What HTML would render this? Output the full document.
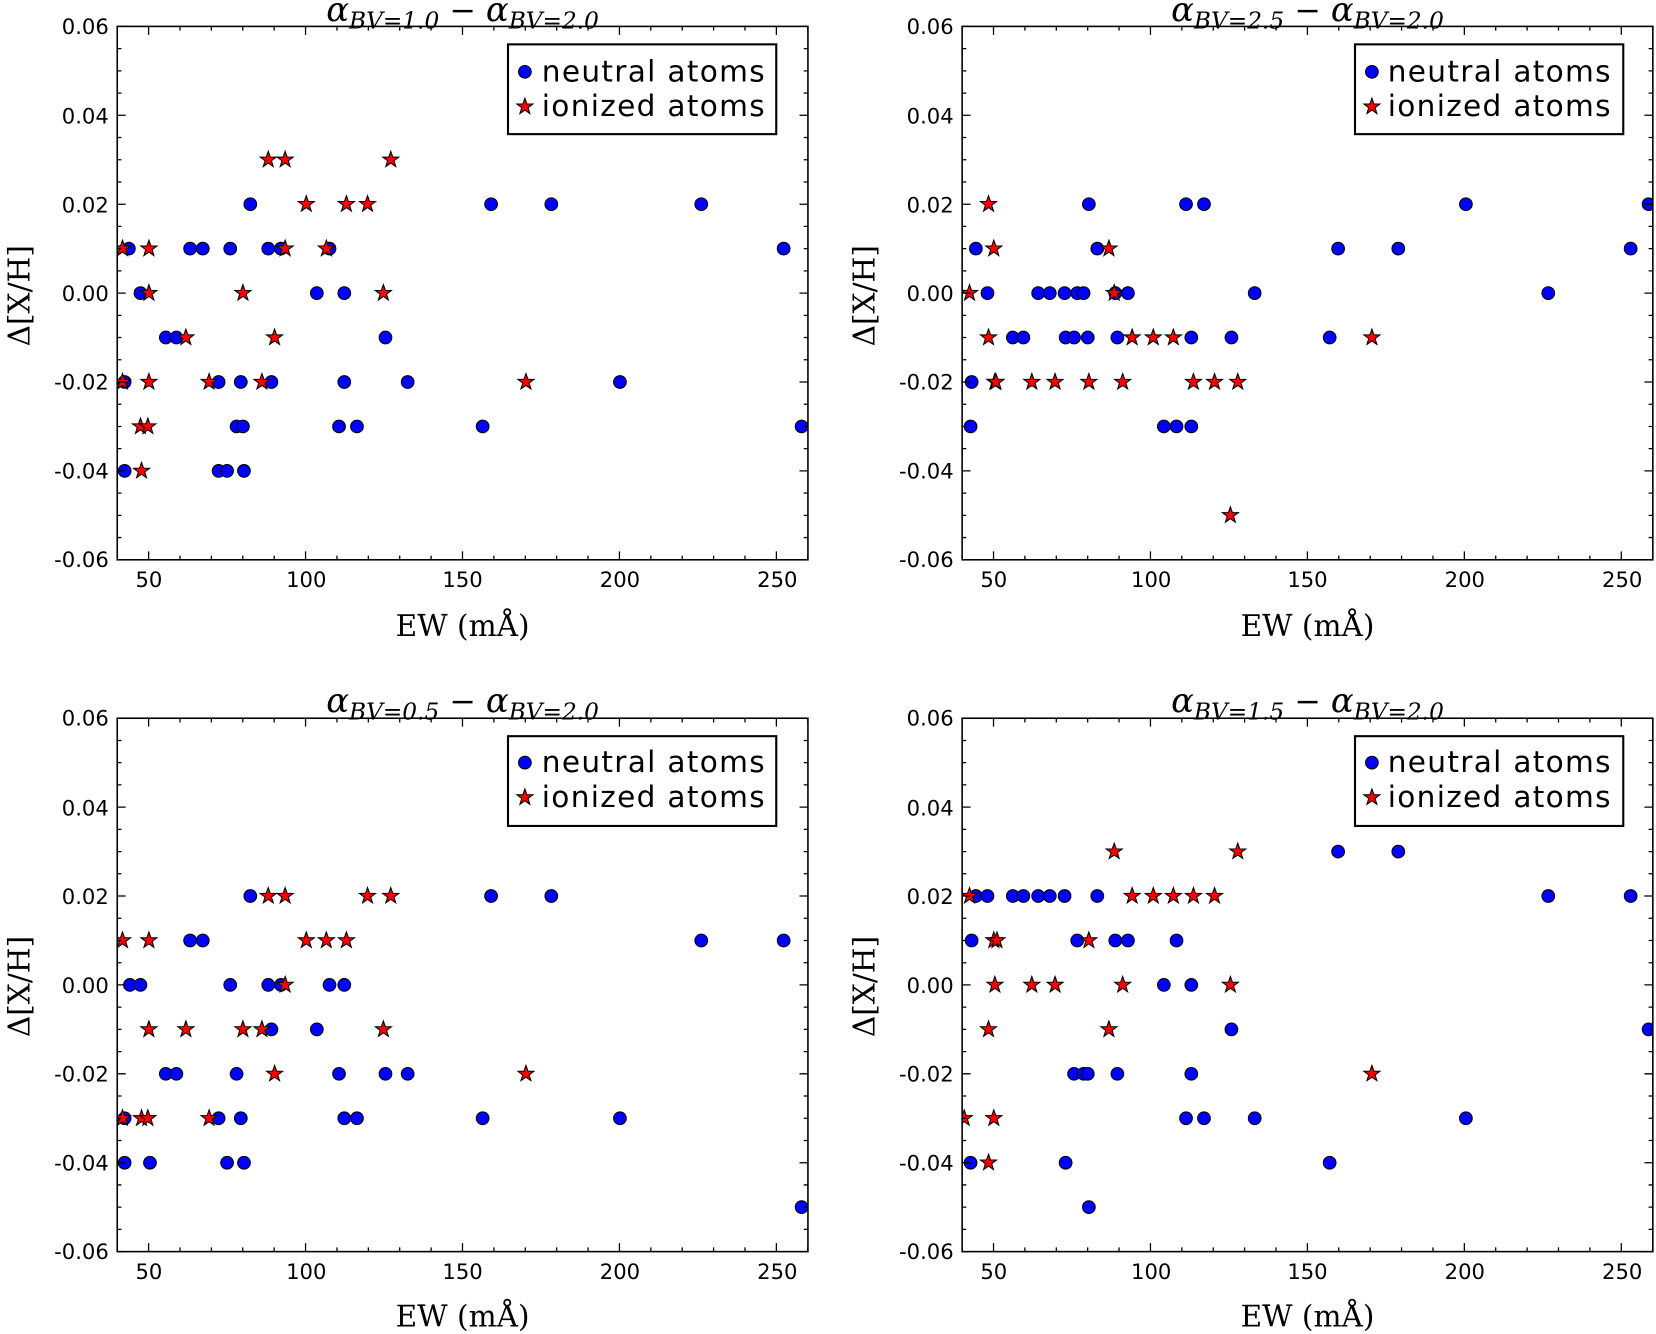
<!DOCTYPE html>
<html><head><meta charset="utf-8"><style>
html,body{margin:0;padding:0;background:#fff;}
svg{display:block;}
text{font-family:"DejaVu Sans","Liberation Sans",sans-serif;}
.t{font-family:"DejaVu Serif","Liberation Serif",serif;}
</style></head><body>
<svg id="s" width="1656" height="1334" viewBox="0 0 1568 1263" preserveAspectRatio="none" xmlns="http://www.w3.org/2000/svg">
<defs>
<clipPath id="c0"><rect x="111" y="25" width="654" height="505"/></clipPath>
<clipPath id="c1"><rect x="911" y="25" width="654" height="505"/></clipPath>
<clipPath id="c2"><rect x="111" y="680" width="654" height="505"/></clipPath>
<clipPath id="c3"><rect x="911" y="680" width="654" height="505"/></clipPath>
</defs>
<g id="g"></g>
<!-- titles -->
<g class="t" text-anchor="middle">
<text class="t" x="438" y="20"><tspan font-size="32" font-style="italic">α</tspan><tspan font-size="22" font-style="italic" dy="7">BV=1.0</tspan><tspan font-size="30" dy="-7"> − </tspan><tspan font-size="32" font-style="italic">α</tspan><tspan font-size="22" font-style="italic" dy="7">BV=2.0</tspan></text>
<text class="t" x="1238" y="20"><tspan font-size="32" font-style="italic">α</tspan><tspan font-size="22" font-style="italic" dy="7">BV=2.5</tspan><tspan font-size="30" dy="-7"> − </tspan><tspan font-size="32" font-style="italic">α</tspan><tspan font-size="22" font-style="italic" dy="7">BV=2.0</tspan></text>
<text class="t" x="438" y="674"><tspan font-size="32" font-style="italic">α</tspan><tspan font-size="22" font-style="italic" dy="7">BV=0.5</tspan><tspan font-size="30" dy="-7"> − </tspan><tspan font-size="32" font-style="italic">α</tspan><tspan font-size="22" font-style="italic" dy="7">BV=2.0</tspan></text>
<text class="t" x="1238" y="674"><tspan font-size="32" font-style="italic">α</tspan><tspan font-size="22" font-style="italic" dy="7">BV=1.5</tspan><tspan font-size="30" dy="-7"> − </tspan><tspan font-size="32" font-style="italic">α</tspan><tspan font-size="22" font-style="italic" dy="7">BV=2.0</tspan></text>
</g>
<!-- axis labels -->
<text class="t" x="438" y="602" font-size="28" text-anchor="middle">EW (mÅ)</text>
<text class="t" x="1238" y="602" font-size="28" text-anchor="middle">EW (mÅ)</text>
<text class="t" x="438" y="1256" font-size="28" text-anchor="middle">EW (mÅ)</text>
<text class="t" x="1238" y="1256" font-size="28" text-anchor="middle">EW (mÅ)</text>
<text class="t" font-size="28" text-anchor="middle" transform="translate(28,280) rotate(-90)">Δ[X/H]</text>
<text class="t" font-size="28" text-anchor="middle" transform="translate(828,280) rotate(-90)">Δ[X/H]</text>
<text class="t" font-size="28" text-anchor="middle" transform="translate(28,934) rotate(-90)">Δ[X/H]</text>
<text class="t" font-size="28" text-anchor="middle" transform="translate(828,934) rotate(-90)">Δ[X/H]</text>
<!-- tick labels -->
<g font-size="20" text-anchor="end">
<text x="103" y="32">0.06</text><text x="103" y="117">0.04</text><text x="103" y="201">0.02</text><text x="103" y="285">0.00</text><text x="103" y="369">-0.02</text><text x="103" y="453">-0.04</text><text x="103" y="537">-0.06</text>
<text x="903" y="32">0.06</text><text x="903" y="117">0.04</text><text x="903" y="201">0.02</text><text x="903" y="285">0.00</text><text x="903" y="369">-0.02</text><text x="903" y="453">-0.04</text><text x="903" y="537">-0.06</text>
<text x="103" y="687">0.06</text><text x="103" y="772">0.04</text><text x="103" y="856">0.02</text><text x="103" y="940">0.00</text><text x="103" y="1024">-0.02</text><text x="103" y="1108">-0.04</text><text x="103" y="1192">-0.06</text>
<text x="903" y="687">0.06</text><text x="903" y="772">0.04</text><text x="903" y="856">0.02</text><text x="903" y="940">0.00</text><text x="903" y="1024">-0.02</text><text x="903" y="1108">-0.04</text><text x="903" y="1192">-0.06</text>
</g>
<g font-size="20" text-anchor="middle">
<text x="141" y="556">50</text><text x="290" y="556">100</text><text x="438" y="556">150</text><text x="587" y="556">200</text><text x="736" y="556">250</text>
<text x="941" y="556">50</text><text x="1090" y="556">100</text><text x="1238" y="556">150</text><text x="1387" y="556">200</text><text x="1536" y="556">250</text>
<text x="141" y="1211">50</text><text x="290" y="1211">100</text><text x="438" y="1211">150</text><text x="587" y="1211">200</text><text x="736" y="1211">250</text>
<text x="941" y="1211">50</text><text x="1090" y="1211">100</text><text x="1238" y="1211">150</text><text x="1387" y="1211">200</text><text x="1536" y="1211">250</text>
</g>
<!-- legends -->
<g font-size="28">
<rect x="481" y="42" width="254" height="85" fill="#fff" stroke="#000" stroke-width="2"/>
<text x="513" y="77" textLength="211">neutral atoms</text><text x="513" y="110" textLength="211">ionized atoms</text>
<rect x="1283" y="42" width="254" height="85" fill="#fff" stroke="#000" stroke-width="2"/>
<text x="1314" y="77" textLength="211">neutral atoms</text><text x="1314" y="110" textLength="211">ionized atoms</text>
<rect x="481" y="697" width="254" height="85" fill="#fff" stroke="#000" stroke-width="2"/>
<text x="513" y="731" textLength="211">neutral atoms</text><text x="513" y="764" textLength="211">ionized atoms</text>
<rect x="1283" y="697" width="254" height="85" fill="#fff" stroke="#000" stroke-width="2"/>
<text x="1314" y="731" textLength="211">neutral atoms</text><text x="1314" y="764" textLength="211">ionized atoms</text>
</g>
<g id="leg"></g>
</svg>
<script>
var NS="http://www.w3.org/2000/svg";
function el(p,n,a){var e=document.createElementNS(NS,n);for(var k in a)e.setAttribute(k,a[k]);p.appendChild(e);return e;}
function star(cx,cy,r){var s="";for(var i=0;i<10;i++){var rr=i%2?r*0.4:r;var a=-Math.PI/2+i*Math.PI/5;s+=(i?"L":"M")+(cx+rr*Math.cos(a)).toFixed(1)+","+(cy+rr*Math.sin(a)).toFixed(1);}return s+"Z";}
var g=document.getElementById("g");
var panels=[
{x0:111,y0:25,c:[[118,-4],[118,-2],[122,1],[133,0],[157,-1],[167,-1],[180,1],[192,1],[207,-2],[207,-4],[215,-4],[218,1],[224,-3],[228,-2],[230,-3],[231,-4],[237,2],[254,1],[257,-2],[266,1],[300,0],[312,1],[321,-3],[326,0],[326,-2],[338,-3],[365,-1],[386,-2],[457,-3],[465,2],[522,2],[587,-2],[664,2],[742,1],[759,-3]],
 s:[[116,1],[116,-2],[133,-3],[134,-4],[140,-3],[141,1],[141,0],[141,-2],[176,-1],[198,-2],[230,0],[248,-2],[254,3],[260,-1],[270,3],[270,1],[290,2],[309,1],[328,2],[348,2],[363,0],[370,3],[498,-2]]},
{x0:911,y0:25,c:[[919,-3],[920,-2],[924,1],[935,0],[959,-1],[969,-1],[983,0],[994,0],[1008,0],[1009,-1],[1017,-1],[1020,0],[1026,0],[1030,-1],[1031,2],[1039,1],[1056,0],[1058,-1],[1068,0],[1102,-3],[1114,-3],[1123,2],[1128,-3],[1128,-1],[1140,2],[1166,-1],[1188,0],[1259,-1],[1267,1],[1324,1],[1388,2],[1466,0],[1544,1],[1561,2]],
 s:[[918,0],[936,2],[936,-1],[941,1],[942,-2],[943,-2],[977,-2],[999,-2],[1031,-2],[1050,1],[1055,0],[1063,-2],[1072,-1],[1092,-1],[1111,-1],[1130,-2],[1150,-2],[1165,-5],[1172,-2],[1299,-1]]},
{x0:111,y0:680,c:[[118,-4],[118,-3],[123,0],[133,0],[142,-4],[157,-2],[167,-2],[180,1],[192,1],[207,-3],[215,-4],[218,0],[224,-2],[228,-3],[231,-4],[237,2],[254,0],[257,-1],[266,0],[300,-1],[312,0],[321,-2],[326,0],[326,-3],[338,-3],[365,-2],[386,-2],[457,-3],[465,2],[522,2],[587,-3],[664,1],[742,1],[759,-5]],
 s:[[116,1],[116,-3],[134,-3],[140,-3],[141,1],[141,-1],[176,-1],[198,-3],[230,-1],[248,-1],[254,2],[260,-2],[270,2],[270,0],[290,1],[309,1],[328,1],[348,2],[363,-1],[370,2],[498,-2]]},
{x0:911,y0:680,c:[[919,-4],[920,1],[924,2],[935,2],[959,2],[969,2],[983,2],[994,2],[1008,2],[1009,-4],[1017,-2],[1020,1],[1026,-2],[1030,-2],[1031,-5],[1039,2],[1056,1],[1058,-2],[1068,1],[1102,0],[1114,1],[1123,-3],[1128,-2],[1128,0],[1140,-3],[1166,-1],[1188,-3],[1259,-4],[1267,3],[1324,3],[1388,-3],[1466,2],[1544,2],[1561,-1]],
 s:[[913,-3],[918,2],[936,-1],[936,-4],[941,1],[942,0],[941,-3],[944,1],[977,0],[999,0],[1031,1],[1050,-1],[1055,3],[1063,0],[1072,2],[1092,2],[1111,2],[1130,2],[1150,2],[1165,0],[1172,3],[1299,-2]]}
];
panels.forEach(function(p,i){
 var W=654,H=505,k=H/120;
 var yc=p.y0+252.5;
 var grp=el(g,"g",{"clip-path":"url(#c"+i+")"});
 p.c.forEach(function(d){el(grp,"circle",{cx:d[0],cy:yc-d[1]*10*k,r:6,fill:"#0000ff",stroke:"#000","stroke-width":1});});
 p.s.forEach(function(d){el(grp,"path",{d:star(d[0],yc-d[1]*10*k,8),fill:"#ff0000",stroke:"#000","stroke-width":1});});
 var t="";
 for(var v=-60;v<=60;v+=5){var y=yc-v*k;var L=(v%20==0)?8:4;t+="M"+p.x0+","+y+"h"+L+"M"+(p.x0+W)+","+y+"h-"+L;}
 for(var e=40;e<=260;e+=10){var x=p.x0+(e-40)*2.972;if(x>p.x0+W+0.5)break;var L=(e%50==0)?8:4;t+="M"+x+","+(p.y0+H)+"v-"+L+"M"+x+","+p.y0+"v"+L;}
 el(g,"path",{d:t,stroke:"#000","stroke-width":1.2,fill:"none"});
 el(g,"rect",{x:p.x0,y:p.y0,width:W,height:H,fill:"none",stroke:"#000","stroke-width":1.5});
});
var leg=document.getElementById("leg");
[[497,68],[1299,68],[497,722],[1299,722]].forEach(function(q){
 el(leg,"circle",{cx:q[0],cy:q[1],r:6,fill:"#0000ff",stroke:"#000","stroke-width":1});
 el(leg,"path",{d:star(q[0],q[1]+33,8),fill:"#ff0000",stroke:"#000","stroke-width":1});
});
</script>
</body></html>
